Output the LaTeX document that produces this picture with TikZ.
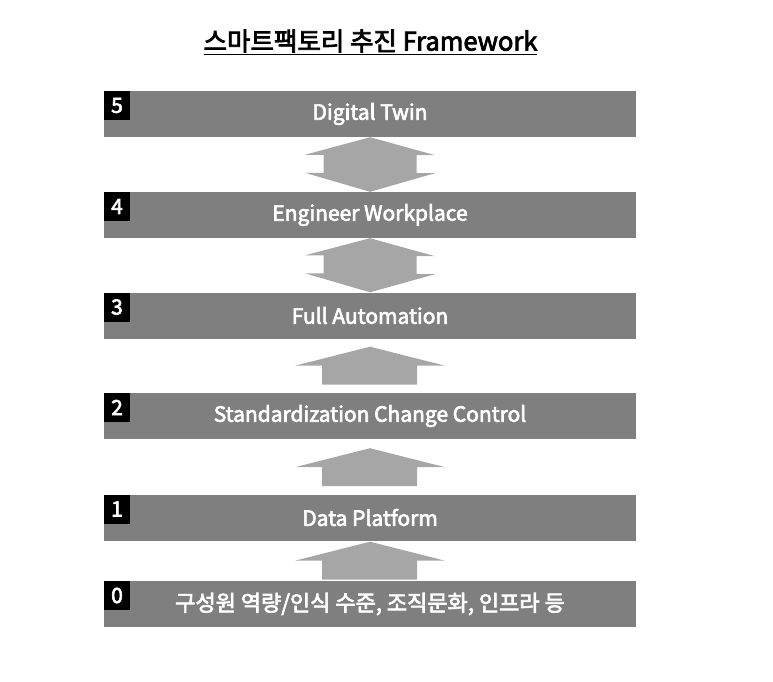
\documentclass[tikz,border=0pt]{standalone}
\usepackage{fontspec}
\setmainfont{Noto Sans CJK KR}
\newfontfamily\semibold{Noto Sans CJK KR}[FakeBold=3]
\usepackage{tikz}
\usetikzlibrary{positioning}

\definecolor{bargray}{HTML}{7F7F7F}
\definecolor{arrowgray}{HTML}{A6A6A6}

\tikzset{
  layer/.style={fill=bargray, text=white, minimum width=532pt, minimum height=46pt,
    inner sep=0pt, font=\fontsize{21}{24}\semibold},
  levelno/.style={fill=black, text=white, minimum width=26pt, minimum height=29pt,
    inner sep=0pt, anchor=north west, font=\fontsize{21}{22}\semibold},
  blockarrow/.style={fill=arrowgray}
}

\begin{document}
\begin{tikzpicture}[x=1pt,y=-1pt]
    \useasboundingbox (0,0) rectangle (773,682);
    %title
    \node (title) at (370.5,42) {\fontsize{25.5}{28}\semibold\underline{스마트팩토리 추진 Framework}};
    %layers
    \node[layer] (L5) at (370,114) {Digital Twin};
    \node[layer] (L4) at (370,215) {Engineer Workplace};
    \node[layer] (L3) at (370,315.5) {Full Automation};
    \node[layer] (L2) at (370,416) {Standardization Change Control};
    \node[layer] (L1) at (370,517.5) {Data Platform};
    \node[layer, font=\fontsize{22}{24}\semibold] (L0) at (370,604) {구성원 역량/인식 수준, 조직문화, 인프라 등};
    %numbers
    \foreach \i in {0,...,5}
      \node[levelno] (n\i) at (L\i.north west) {\i};
    %double arrows
    \foreach \a/\b in {L5/L4, L4/L3}
      \fill[blockarrow] (\a.south) -- ++(65,18) -- ++(-18.5,0) -- ++(0,18) -- ++(18.5,0)
        -- (\b.north) -- ++(-65,-19) -- ++(18.5,0) -- ++(0,-18) -- ++(-18.5,0) -- cycle;
    %up arrows
    \foreach \a/\gap in {L3/8, L2/9, L1/1}
      \fill[blockarrow] (\a.south) ++(0,\gap) -- ++(75,19) -- ++(-28,0) -- ++(0,19)
        -- ++(-95,0) -- ++(0,-19) -- ++(-27,0) -- cycle;
\end{tikzpicture}
\end{document}
